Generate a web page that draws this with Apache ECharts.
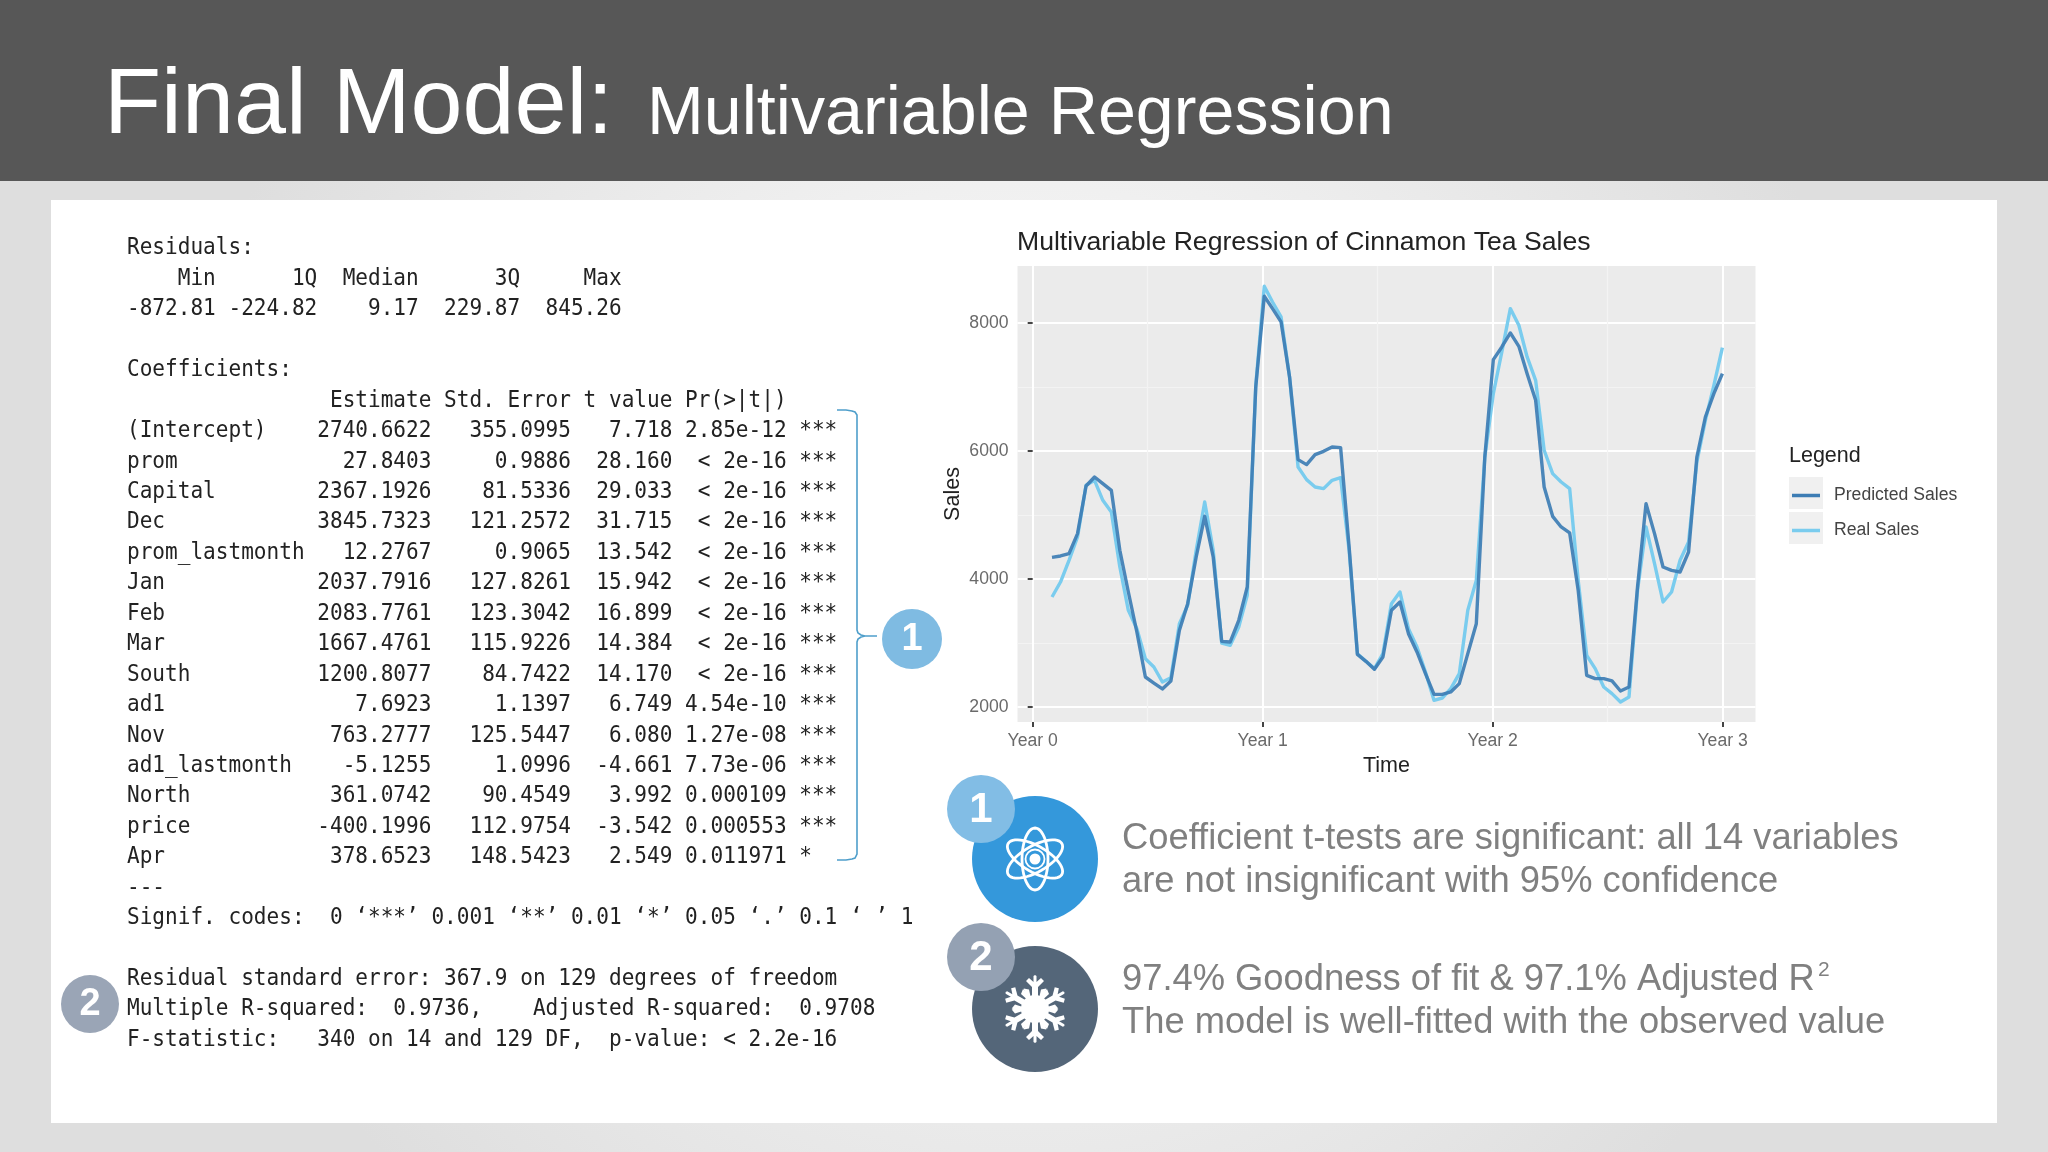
<!DOCTYPE html>
<html>
<head>
<meta charset="utf-8">
<title>Final Model</title>
<script src="https://cdn.jsdelivr.net/npm/echarts@6/dist/echarts.min.js"></script>
<style>
  html, body { margin: 0; padding: 0; background: #e6e6e6; }
  #main { width: 2048px; height: 1152px; }
</style>
</head>
<body>
<div id="main"></div>
<script>
// time in years since the start of the series
const timeYears = [
  0.084, 0.121, 0.158, 0.195, 0.232, 0.269, 0.305, 0.342, 0.379, 0.416,
  0.453, 0.490, 0.527, 0.564, 0.601, 0.638, 0.674, 0.711, 0.748, 0.785,
  0.822, 0.859, 0.896, 0.933, 0.970, 1.007, 1.043, 1.080, 1.117, 1.154,
  1.191, 1.228, 1.265, 1.302, 1.339, 1.376, 1.412, 1.449, 1.486, 1.523,
  1.560, 1.597, 1.634, 1.671, 1.708, 1.745, 1.781, 1.818, 1.855, 1.892,
  1.929, 1.966, 2.003, 2.040, 2.077, 2.114, 2.150, 2.187, 2.224, 2.261,
  2.298, 2.335, 2.372, 2.409, 2.446, 2.483, 2.519, 2.556, 2.593, 2.630,
  2.667, 2.704, 2.741, 2.778, 2.815, 2.852, 2.888, 2.925, 2.962, 2.999
]
const predictedSales = [
  4339, 4360, 4396, 4709, 5453, 5594, 5490, 5386, 4448, 3797,
  3172, 2469, 2375, 2282, 2407, 3198, 3615, 4344, 4979, 4344,
  3026, 3016, 3355, 3875, 7000, 8417, 8224, 8016, 7156, 5865,
  5787, 5943, 5995, 6063, 6052, 4500, 2823, 2714, 2589, 2782,
  3511, 3641, 3146, 2860, 2521, 2198, 2198, 2235, 2365, 2834,
  3302, 5906, 7427, 7625, 7844, 7635, 7208, 6792, 5438, 4979,
  4813, 4719, 3823, 2495, 2443, 2443, 2407, 2250, 2313, 3875,
  5177, 4709, 4188, 4136, 4110, 4422, 5906, 6531, 6896, 7208
]
const realSales = [
  3719, 3953, 4292, 4656, 5464, 5542, 5229, 5047, 4188, 3511,
  3224, 2755, 2625, 2391, 2459, 3302, 3589, 4448, 5203, 4448,
  3000, 2964, 3250, 3745, 7026, 8573, 8328, 8094, 7156, 5750,
  5552, 5438, 5412, 5542, 5583, 4448, 2834, 2714, 2600, 2834,
  3615, 3797, 3224, 2938, 2547, 2105, 2141, 2287, 2521, 3511,
  3979, 5906, 6896, 7547, 8224, 7964, 7469, 7104, 6011, 5646,
  5516, 5412, 3979, 2808, 2600, 2313, 2209, 2079, 2157, 3823,
  4813, 4240, 3641, 3797, 4292, 4578, 5828, 6479, 7026, 7615
]
const yearTicks = [0, 1, 2, 3]
const halfYearTicks = [0.5, 1.5, 2.5]
const salesTicks = [2000, 4000, 6000, 8000]
const salesMinorTicks = [3000, 5000, 7000]

const outputLines = [
  'Residuals:',
  '    Min      1Q  Median      3Q     Max',
  '-872.81 -224.82    9.17  229.87  845.26',
  '',
  'Coefficients:',
  '                Estimate Std. Error t value Pr(>|t|)',
  '(Intercept)    2740.6622   355.0995   7.718 2.85e-12 ***',
  'prom             27.8403     0.9886  28.160  < 2e-16 ***',
  'Capital        2367.1926    81.5336  29.033  < 2e-16 ***',
  'Dec            3845.7323   121.2572  31.715  < 2e-16 ***',
  'prom_lastmonth   12.2767     0.9065  13.542  < 2e-16 ***',
  'Jan            2037.7916   127.8261  15.942  < 2e-16 ***',
  'Feb            2083.7761   123.3042  16.899  < 2e-16 ***',
  'Mar            1667.4761   115.9226  14.384  < 2e-16 ***',
  'South          1200.8077    84.7422  14.170  < 2e-16 ***',
  'ad1               7.6923     1.1397   6.749 4.54e-10 ***',
  'Nov             763.2777   125.5447   6.080 1.27e-08 ***',
  'ad1_lastmonth    -5.1255     1.0996  -4.661 7.73e-06 ***',
  'North           361.0742    90.4549   3.992 0.000109 ***',
  'price          -400.1996   112.9754  -3.542 0.000553 ***',
  'Apr             378.6523   148.5423   2.549 0.011971 *',
  '---',
  'Signif. codes:  0 ‘***’ 0.001 ‘**’ 0.01 ‘*’ 0.05 ‘.’ 0.1 ‘ ’ 1',
  '',
  'Residual standard error: 367.9 on 129 degrees of freedom',
  'Multiple R-squared:  0.9736,    Adjusted R-squared:  0.9708',
  'F-statistic:   340 on 14 and 129 DF,  p-value: < 2.2e-16'
]

const sans = '"Liberation Sans", Arial, sans-serif'
const mono = '"DejaVu Sans Mono", monospace'

function label(text, x, y, size, color, extra) {
  return {
    type: 'text',
    x: x,
    y: y,
    z: 5,
    style: Object.assign({
      text: text,
      fontFamily: sans,
      fontSize: size,
      fill: color,
      textVerticalAlign: 'middle'
    }, extra || {})
  }
}

function circle(cx, cy, r, color) {
  return { type: 'circle', z: 3, shape: { cx: cx, cy: cy, r: r }, style: { fill: color } }
}

/* 圆形编号 */
function badge(cx, cy, r, color, text, size) {
  return [
    circle(cx, cy, r, color),
    label(text, cx, cy + 1, size, '#fff', { fontWeight: 'bold', textAlign: 'center' })
  ]
}

function atomIcon(cx, cy) {
  const ring = []
  for (let i = 0; i < 48; i++) {
    const a = i / 48 * Math.PI * 2
    ring.push([31 * Math.cos(a), 13 * Math.sin(a)])
  }
  const orbit = deg => ({
    type: 'polygon',
    z: 4,
    x: cx,
    y: cy,
    rotation: deg * Math.PI / 180,
    shape: { points: ring },
    style: { fill: 'none', stroke: '#fff', lineWidth: 2.8 }
  })
  return [
    orbit(90),
    orbit(30),
    orbit(-30),
    { type: 'circle', z: 4, shape: { cx: cx, cy: cy, r: 5.5 }, style: { fill: '#fff' } },
    { type: 'circle', z: 4, shape: { cx: cx, cy: cy, r: 9.5 }, style: { fill: 'none', stroke: '#fff', lineWidth: 1.8 } }
  ]
}

function snowflakeIcon(cx, cy) {
  const armParts = [
    [[-3, 0], [-3, -22], [-9, -28], [-6, -31], [-1.5, -27], [-1.5, -33], [0, -34], [1.5, -33], [1.5, -27], [6, -31], [9, -28], [3, -22], [3, 0]],
    [[-3, -11], [-12, -20], [-14, -15], [-3, -5]],
    [[3, -11], [12, -20], [14, -15], [3, -5]]
  ]
  const parts = [{ type: 'circle', z: 4, shape: { cx: cx, cy: cy, r: 14 }, style: { fill: '#fff' } }]
  for (let i = 0; i < 6; i++) {
    armParts.forEach(points => {
      parts.push({
        type: 'polygon',
        z: 4,
        x: cx,
        y: cy,
        rotation: i * Math.PI / 3,
        shape: { points: points },
        style: { fill: '#fff' }
      })
    })
  }
  return parts
}

const bracketPoints = [
  [837, 410], [846, 410], [852, 411], [855, 412], [857, 415], [857, 630], [858, 633], [861, 635], [865, 636],
  [877, 636], [865, 636], [861, 637], [858, 639], [857, 642], [857, 854], [855, 858], [852, 859], [846, 860], [837, 860]
]

const graphics = [
  // slide background
  {
    type: 'rect', z: -10, shape: { x: 0, y: 0, width: 2048, height: 1152 },
    style: {
      fill: new echarts.graphic.RadialGradient(0.5, 0.5, 0.75, [
        { offset: 0, color: '#ffffff' },
        { offset: 1, color: '#dedede' }
      ])
    }
  },
  { type: 'rect', z: -9, shape: { x: 0, y: 0, width: 2048, height: 181 }, style: { fill: '#575757' } },
  { type: 'rect', z: -9, shape: { x: 51, y: 200, width: 1946, height: 923 }, style: { fill: '#fff' } },
  label('Final Model:', 104, 107, 93.5, '#fff'),
  label('Multivariable Regression', 647, 115, 68.2, '#fff'),
  // legend key backgrounds
  { type: 'rect', z: 1, shape: { x: 1789, y: 477, width: 34, height: 32 }, style: { fill: '#f0f0f0' } },
  { type: 'rect', z: 1, shape: { x: 1789, y: 512, width: 34, height: 32 }, style: { fill: '#f0f0f0' } },
  label('Legend', 1789, 456, 21.5, '#222'),
  // bracket
  {
    type: 'polyline', z: 3,
    shape: { points: bracketPoints },
    style: { fill: 'none', stroke: '#4f9fcb', lineWidth: 1.6 }
  }
]

outputLines.forEach((line, i) => {
  if (!line) return
  const item = label(line, 127, 248.5 + i * 30.44, 23, '#222', { fontFamily: mono })
  item.scaleX = 0.916
  graphics.push(item)
})

graphics.push(
  ...badge(912, 639, 30, '#7fbbe2', '1', 38),
  ...badge(90, 1004, 29, '#9aa5b6', '2', 38),
  circle(1035, 859, 63, '#3498db'),
  circle(1035, 1009, 63, '#546679'),
  ...atomIcon(1035, 859),
  ...snowflakeIcon(1035, 1009),
  ...badge(981, 809, 34, '#82bde5', '1', 42),
  ...badge(981, 957, 34, '#94a1b3', '2', 42),
  label('Coefficient t-tests are significant: all 14 variables', 1122, 839, 36.35, '#808080'),
  label('are not insignificant with 95% confidence', 1122, 882, 36.35, '#808080'),
  label('97.4% Goodness of fit & 97.1% Adjusted R', 1122, 980, 36.35, '#808080'),
  label('2', 1818, 970, 21, '#808080'),
  label('The model is well-fitted with the observed value', 1122, 1023, 36.35, '#808080')
)

const chartDom = document.getElementById('main')
const myChart = echarts.init(chartDom)

const tickLabelStyle = { color: '#6a6a6a', fontSize: 17.6, fontFamily: sans }
const nameStyle = { color: '#222', fontSize: 21.5, fontFamily: sans }
const axisMin = -0.066
const axisMax = 3.143
const salesMin = 1766
const salesMax = 8890

const option = {
  animation: false,
  backgroundColor: 'transparent',
  title: {
    text: 'Multivariable Regression of Cinnamon Tea Sales',
    left: 1017,
    top: 229,
    padding: 0,
    textStyle: { color: '#222', fontSize: 26.6, fontWeight: 'normal', fontFamily: sans }
  },
  legend: {
    orient: 'vertical',
    left: 1792,
    top: 485,
    icon: 'rect',
    itemWidth: 28,
    itemHeight: 3.5,
    itemGap: 14,
    padding: 0,
    data: ['Predicted Sales', 'Real Sales'],
    textStyle: { color: '#444', fontSize: 17.6, fontFamily: sans, padding: [0, 0, 0, 9], lineHeight: 21 }
  },
  grid: {
    left: 1017.5,
    top: 266,
    width: 738,
    height: 456,
    show: true,
    backgroundColor: '#ebebeb',
    borderWidth: 0
  },
  xAxis: [
    {
      type: 'value',
      min: axisMin,
      max: axisMax,
      name: 'Time',
      nameLocation: 'middle',
      nameGap: 33,
      nameTextStyle: nameStyle,
      axisLine: { show: false },
      axisTick: { length: 5, customValues: yearTicks, lineStyle: { color: '#444', width: 2 } },
      axisLabel: {
        customValues: yearTicks,
        margin: 10,
        color: tickLabelStyle.color,
        fontSize: tickLabelStyle.fontSize,
        fontFamily: sans,
        formatter: value => 'Year ' + value
      },
      splitLine: { show: true, lineStyle: { color: '#fff', width: 2 } }
    },
    {
      type: 'value',
      min: axisMin,
      max: axisMax,
      axisLine: { show: false },
      axisTick: { show: false, customValues: halfYearTicks },
      axisLabel: { show: false, customValues: halfYearTicks },
      splitLine: { show: true, lineStyle: { color: '#f3f3f3', width: 1.2 } }
    }
  ],
  yAxis: [
    {
      type: 'value',
      min: salesMin,
      max: salesMax,
      name: 'Sales',
      nameLocation: 'middle',
      nameGap: 53,
      nameRotate: 90,
      nameTextStyle: nameStyle,
      axisLine: { show: false },
      axisTick: { length: 5, customValues: salesTicks, lineStyle: { color: '#444', width: 2 } },
      axisLabel: {
        customValues: salesTicks,
        margin: 9,
        color: tickLabelStyle.color,
        fontSize: tickLabelStyle.fontSize,
        fontFamily: sans,
        formatter: value => String(value)
      },
      splitLine: { show: true, lineStyle: { color: '#fff', width: 2 } }
    },
    {
      type: 'value',
      min: salesMin,
      max: salesMax,
      axisLine: { show: false },
      axisTick: { show: false, customValues: salesMinorTicks },
      axisLabel: { show: false, customValues: salesMinorTicks },
      splitLine: { show: true, lineStyle: { color: '#f3f3f3', width: 1.2 } }
    }
  ],
  series: [
    {
      name: 'Real Sales',
      type: 'line',
      z: 3,
      showSymbol: false,
      data: timeYears.map((t, i) => [t, realSales[i]]),
      itemStyle: { color: '#7accee' },
      lineStyle: { color: '#7accee', width: 3.4, join: 'round' }
    },
    {
      name: 'Predicted Sales',
      type: 'line',
      z: 4,
      showSymbol: false,
      data: timeYears.map((t, i) => [t, predictedSales[i]]),
      itemStyle: { color: '#3d7db4' },
      lineStyle: { color: '#3d7db4', width: 3.4, opacity: 0.92, join: 'round' }
    }
  ],
  graphic: { elements: graphics }
}
myChart.setOption(option)
</script>
</body>
</html>
